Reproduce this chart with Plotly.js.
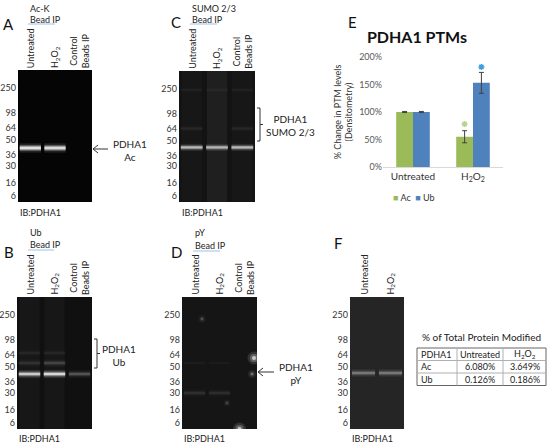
<!DOCTYPE html>
<html>
<head>
<meta charset="utf-8">
<script src="https://cdn.plot.ly/plotly-3.0.1.min.js"></script>
<style>html,body{margin:0;padding:0;background:#fff;}#chart{width:550px;height:446px;}</style>
</head>
<body>
<div id="chart"></div>
<script>
// ---------- DATA ----------
// Panel E: PTM densitometry
const ptmCategories = ['Untreated', 'H<sub>2</sub>O<sub>2</sub>'];
const seriesNames = ['Ac', 'Ub'];
const acValues = [100, 55];
const acErrors = [1, 11];
const ubValues = [100, 153];
const ubErrors = [1, 19];
const acSignificance = [null, 78];
const ubSignificance = [null, 182];

// Molecular weight ladder (kDa) and migration distance from the well (gel units)
const ladderKDa = ['250', '98', '64', '50', '36', '30', '16', '6'];
const ladderMigration = [18, 43, 58, 70, 85, 96, 113, 126];

// Lane labels
const lanesIP = ['Untreated', 'H<sub>2</sub>O<sub>2</sub>', 'Control<br>Beads IP'];
const lanesInput = ['Untreated', 'H<sub>2</sub>O<sub>2</sub>'];

// Bands: lane number, migration, relative intensity
const bandsA_lane = [1, 2];
const bandsA_mig = [78, 78];
const bandsA_int = [1.0, 0.95];

const bandsC_lane = [1, 2, 3, 1, 3, 1, 2, 3];
const bandsC_mig = [77, 77, 77, 58, 58, 19, 19, 19];
const bandsC_int = [0.8, 0.75, 0.8, 0.07, 0.07, 0.04, 0.035, 0.04];

const bandsB_lane = [1, 2, 3, 1, 2, 1, 2];
const bandsB_mig = [77, 77, 77, 66, 66, 56, 56];
const bandsB_int = [0.85, 0.95, 0.25, 0.1, 0.17, 0.06, 0.06];

const bandsD_lane = [1, 2, 1, 2];
const bandsD_mig = [96, 96, 66, 66];
const bandsD_int = [0.11, 0.1, 0.035, 0.03];

const bandsF_lane = [1, 2];
const bandsF_mig = [76, 76];
const bandsF_int = [0.45, 0.45];

// Lane smears (background haze): lane, start, end, intensity
const smearC_lane = [2, 1, 3];
const smearC_start = [0, 0, 0];
const smearC_end = [132, 132, 132];
const smearC_int = [0.05, 0.02, 0.02];
const smearB_lane = [1, 2];
const smearB_start = [0, 0];
const smearB_end = [132, 132];
const smearB_int = [0.03, 0.03];

// Spots / artefacts on blot D: lane position, migration, intensity
const spotsD_lane = [3.38, 3.3, 2.8, 1.3, 2.3];
const spotsD_mig = [61, 77, 132, 22, 106];
const spotsD_int = [1.0, 0.45, 1.0, 0.3, 0.25];

// Table: % of total protein modified
const tableHeader = ['PDHA1', 'Untreated', 'H<sub>2</sub>O<sub>2</sub>'];
const tableRowLabels = ['Ac', 'Ub'];
const tableUntreated = ['6.080%', '0.126%'];
const tableH2O2 = ['3.649%', '0.186%'];

// ---------- HELPERS ----------
const W = 550, H = 446;
const px = x => x / W;
const py = y => 1 - y / H;
const FONT = 'Lato, "Open Sans", sans-serif';
const TXT = '#222';

const traces = [];
const shapes = [];
const annotations = [];
const layout = {
  width: W, height: H,
  margin: {l: 0, r: 0, t: 0, b: 0},
  paper_bgcolor: '#fff', plot_bgcolor: 'rgba(0,0,0,0)',
  font: {family: FONT, color: TXT, size: 10},
  showlegend: false,
  barmode: 'overlay'
};

function bandTraces(n, lanes, migs, ints, rgb, scale) {
  const xa = 'x' + n, ya = 'y' + n;
  const s = scale || 1;
  const layers = [[8 * s, 0.12], [5 * s, 0.3], [2.6 * s, 0.8]];
  layers.forEach(([th, a]) => {
    traces.push({
      type: 'bar', xaxis: xa, yaxis: ya,
      x: lanes, base: migs.map(m => m - th / 2), y: migs.map(() => th),
      width: 0.86,
      marker: {color: ints.map(i => `rgba(${rgb},${(i * a).toFixed(3)})`), line: {width: 0}},
      hoverinfo: 'skip'
    });
  });
}
function smearTrace(n, lanes, starts, ends, ints) {
  traces.push({
    type: 'bar', xaxis: 'x' + n, yaxis: 'y' + n,
    x: lanes, base: starts, y: ends.map((e, i) => e - starts[i]), width: 0.8,
    marker: {color: ints.map(i => `rgba(255,255,255,${i})`), line: {width: 0}},
    hoverinfo: 'skip'
  });
}

function blotAxes(n, x0, x1, y0, y1, lanes, bg) {
  layout['xaxis' + n] = {
    domain: [px(x0), px(x1)], anchor: 'y' + n, side: 'top',
    range: [0.5, lanes.length + 0.5], showticklabels: false,
    ticks: '', showgrid: false, zeroline: false, showline: false, fixedrange: true
  };
  layout['yaxis' + n] = {
    domain: [py(y1), py(y0)], anchor: 'x' + n,
    range: [132, 0], tickmode: 'array', tickvals: ladderMigration, ticktext: ladderKDa,
    ticks: '', showgrid: false, zeroline: false, showline: false,
    tickfont: {size: 9, color: '#333', family: FONT}, ticklabelstandoff: 1, fixedrange: true
  };
  shapes.push({type: 'rect', xref: 'x' + n + ' domain', yref: 'y' + n + ' domain',
    x0: 0, x1: 1, y0: 0, y1: 1, fillcolor: bg, line: {width: 0}, layer: 'below'});
  // rotated lane labels sitting on top of the blot
  lanes.forEach((lab, i) => {
    annotations.push({
      xref: 'x' + n, yref: 'paper', x: i + 1, y: py(y0 - 1), text: lab, textangle: -90,
      showarrow: false, xanchor: 'center', yanchor: 'bottom',
      font: {size: 9, color: TXT, family: FONT}, borderpad: 0
    });
  });
}

function text(x, y, t, opts) {
  annotations.push(Object.assign({
    xref: 'paper', yref: 'paper', x: px(x), y: py(y), text: t, showarrow: false,
    xanchor: 'left', yanchor: 'middle', font: {size: 9, color: TXT, family: FONT}
  }, opts || {}));
}
function line(x0, y0, x1, y1, color, w) {
  shapes.push({type: 'line', xref: 'paper', yref: 'paper', x0: px(x0), y0: py(y0), x1: px(x1), y1: py(y1),
    line: {color: color || '#333', width: w || 1}});
}
function bracket(x, yTop, yBot) {
  const ym = (yTop + yBot) / 2;
  line(x, yTop, x + 3, yTop); line(x + 3, yTop, x + 3, yBot); line(x, yBot, x + 3, yBot);
  line(x + 3, ym, x + 6, ym);
}
function arrowLeft(x0, x1, y) {
  line(x0, y, x1, y, '#333', 1);
  line(x0, y, x0 + 5, y - 4, '#333', 1);
  line(x0, y, x0 + 5, y + 4, '#333', 1);
}

// ---------- PANEL E: bar chart ----------
traces.push({
  type: 'bar', name: seriesNames[0], x: ptmCategories.map((_, i) => i), y: acValues,
  width: 0.28, offset: -0.28, marker: {color: '#9BBB59'},
  error_y: {type: 'data', array: acErrors, visible: true, color: '#404040', thickness: 1, width: 2.5}
});
traces.push({
  type: 'bar', name: seriesNames[1], x: ptmCategories.map((_, i) => i), y: ubValues,
  width: 0.28, offset: 0, marker: {color: '#4F81BD'},
  error_y: {type: 'data', array: ubErrors, visible: true, color: '#404040', thickness: 1, width: 2.5}
});
traces.push({
  type: 'scatter', mode: 'markers', x: ptmCategories.map((_, i) => i - 0.14), y: acSignificance,
  marker: {symbol: 'asterisk-open', size: 5, color: '#b8d48c', line: {width: 1.5, color: '#b8d48c'}}, hoverinfo: 'skip'
});
traces.push({
  type: 'scatter', mode: 'markers', x: ptmCategories.map((_, i) => i + 0.14), y: ubSignificance,
  marker: {symbol: 'asterisk-open', size: 5, color: '#3d9ee0', line: {width: 1.5, color: '#3d9ee0'}}, hoverinfo: 'skip'
});
layout.xaxis = {
  domain: [px(383), px(503)], anchor: 'y', range: [-0.5, 1.5],
  tickmode: 'array', tickvals: ptmCategories.map((_, i) => i), ticktext: ptmCategories,
  showline: true, linecolor: '#d9d9d9', linewidth: 1, ticks: '', showgrid: false, zeroline: false,
  tickfont: {size: 10, color: '#333', family: FONT}, fixedrange: true
};
layout.yaxis = {
  domain: [py(167), py(57)], anchor: 'x', range: [0, 200], dtick: 50, ticksuffix: '%',
  showgrid: false, zeroline: false, showline: false, ticks: '',
  tickfont: {size: 9, color: '#595959', family: FONT}, fixedrange: true,
  title: {text: '% Change in PTM levels<br>(Densitometry)', font: {size: 9, color: '#333', family: FONT}, standoff: 4}
};
layout.title = {
  text: '<b>PDHA1 PTMs</b>', x: px(417), xanchor: 'center', y: py(37), yanchor: 'middle',
  xref: 'paper', yref: 'paper', font: {size: 16, color: '#111', family: FONT}
};
text(414, 198, '<span style="color:#9BBB59">■</span> ' + seriesNames[0] +
  '  <span style="color:#4F81BD">■</span> ' + seriesNames[1],
  {xanchor: 'center', font: {size: 9, color: '#333', family: FONT}});

// ---------- BLOTS ----------
blotAxes(2, 18, 92, 70, 202, lanesIP, '#050505');   // A
blotAxes(3, 179, 255, 71, 202, lanesIP, '#131313'); // C
blotAxes(4, 17, 92, 297, 429, lanesIP, '#101010');  // B
blotAxes(5, 182, 257, 297, 429, lanesIP, '#151515'); // D
blotAxes(6, 350, 404, 297, 429, lanesInput, '#252525'); // F

smearTrace(3, smearC_lane, smearC_start, smearC_end, smearC_int);
smearTrace(4, smearB_lane, smearB_start, smearB_end, smearB_int);

bandTraces(2, bandsA_lane, bandsA_mig, bandsA_int, '255,255,255', 1.15);
bandTraces(3, bandsC_lane, bandsC_mig, bandsC_int, '240,240,240', 0.9);
bandTraces(4, bandsB_lane, bandsB_mig, bandsB_int, '250,250,250', 1.0);
bandTraces(5, bandsD_lane, bandsD_mig, bandsD_int, '235,235,235', 1.0);
bandTraces(6, bandsF_lane, bandsF_mig, bandsF_int, '210,210,210', 1.0);

// spots on D
[[13, 0.18], [8, 0.35], [4, 0.9]].forEach(([s, a]) => {
  traces.push({
    type: 'scatter', mode: 'markers', xaxis: 'x5', yaxis: 'y5',
    x: spotsD_lane, y: spotsD_mig,
    marker: {size: spotsD_int.map(i => s * (0.4 + 0.6 * i)), color: spotsD_int.map(i => `rgba(255,255,255,${(a * i).toFixed(3)})`), line: {width: 0}},
    hoverinfo: 'skip'
  });
});

// Panel labels and text
const letterFont = {size: 15, color: '#111', family: FONT};
text(8, 24, 'A', {xanchor: 'center', font: letterFont});
text(176, 22, 'C', {xanchor: 'center', font: letterFont});
text(352, 22, 'E', {xanchor: 'center', font: letterFont});
text(9, 252, 'B', {xanchor: 'center', font: letterFont});
text(176, 252, 'D', {xanchor: 'center', font: letterFont});
text(338, 243, 'F', {xanchor: 'center', font: letterFont});

text(28, 9, 'Ac-K');
text(28, 19, 'Bead IP');
line(28, 24, 55, 24, '#9dc3e6', 1);
text(190, 9, 'SUMO 2/3');
text(190, 19, 'Bead IP');
line(190, 24, 217, 24, '#9dc3e6', 1);
text(28, 233, 'Ub');
text(28, 244, 'Bead IP');
line(28, 250, 54, 250, '#9dc3e6', 1);
text(193, 233, 'pY');
text(193, 245, 'Bead IP');
line(193, 251, 220, 251, '#9dc3e6', 1);

arrowLeft(93, 108, 149);
text(111, 150, 'PDHA1<br>Ac', {font: {size: 10, color: TXT, family: FONT}});
bracket(257, 108, 141);
text(264, 125, 'PDHA1<br>SUMO 2/3', {font: {size: 10, color: TXT, family: FONT}});
bracket(94, 339, 368);
text(100, 355, 'PDHA1<br>Ub', {font: {size: 10, color: TXT, family: FONT}});
arrowLeft(258, 274, 372);
text(277, 373, 'PDHA1<br>pY', {font: {size: 10, color: TXT, family: FONT}});

text(18, 212, 'IB:PDHA1');
text(180, 212, 'IB:PDHA1');
text(17, 438, 'IB:PDHA1');
text(182, 438, 'IB:PDHA1');
text(350, 438, 'IB:PDHA1');

// ---------- TABLE (drawn with shapes + text) ----------
text(481, 337, '% of Total Protein Modified', {xanchor: 'center', font: {size: 10, color: '#222', family: FONT}});
const tX = [417, 457, 503, 546];
const tY = [348, 360.5, 373, 385.5];
shapes.push({type: 'rect', xref: 'paper', yref: 'paper', x0: px(tX[0]), x1: px(tX[3]), y0: py(tY[3]), y1: py(tY[0]),
  line: {color: '#666', width: 1}, fillcolor: '#fff'});
line(tX[0], tY[1], tX[3], tY[1], '#b0b0b0', 1);
line(tX[0], tY[2], tX[3], tY[2], '#b0b0b0', 1);
line(tX[1], tY[0], tX[1], tY[3], '#b0b0b0', 1);
line(tX[2], tY[0], tX[2], tY[3], '#b0b0b0', 1);
const cellFont = {size: 9, color: '#222', family: FONT};
const tableCols = [
  [tableHeader[0]].concat(tableRowLabels),
  [tableHeader[1]].concat(tableUntreated),
  [tableHeader[2]].concat(tableH2O2)
];
tableCols.forEach((col, c) => {
  col.forEach((v, r) => {
    const yc = (tY[r] + tY[r + 1]) / 2;
    if (c === 0) text(tX[0] + 2, yc, v, {font: cellFont});
    else text((tX[c] + tX[c + 1]) / 2, yc, v, {xanchor: 'center', font: cellFont});
  });
});

layout.shapes = shapes;
layout.annotations = annotations;
Plotly.newPlot('chart', traces, layout, {staticPlot: true, displayModeBar: false});
</script>
</body>
</html>
